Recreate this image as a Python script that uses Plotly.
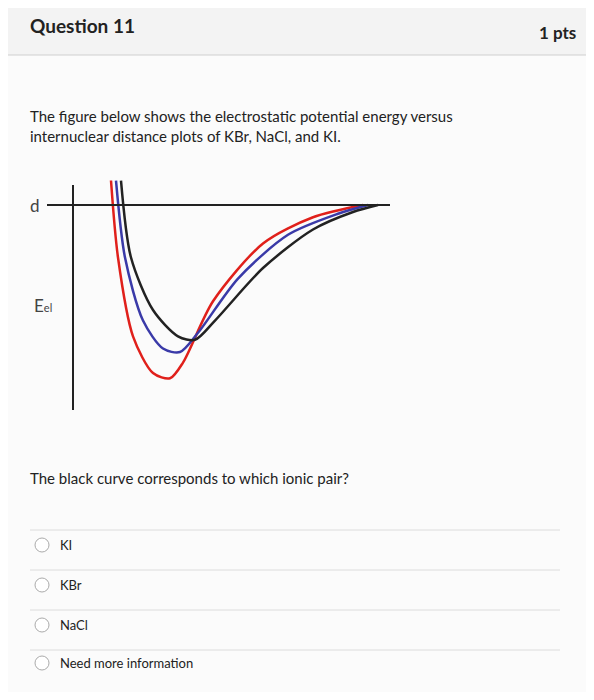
import plotly.graph_objects as go

W, H = 594, 700
M = 8  # default page margin
# curve data: r (arbitrary units), E (arbitrary units)
red_r = [0.38, 0.45, 0.6, 0.8, 0.97, 1.1, 1.4, 1.9, 2.4, 2.9]
red_E = [0.14, -0.3, -0.75, -0.96, -0.99, -0.9, -0.55, -0.22, -0.07, 0.0]
blue_r = [0.43, 0.52, 0.7, 0.9, 1.07, 1.25, 1.65, 2.15, 2.65, 2.95]
blue_E = [0.14, -0.3, -0.66, -0.82, -0.84, -0.73, -0.42, -0.17, -0.05, 0.0]
black_r = [0.48, 0.58, 0.8, 1.05, 1.22, 1.42, 1.9, 2.4, 2.8, 3.05]
black_E = [0.14, -0.3, -0.6, -0.75, -0.77, -0.66, -0.36, -0.14, -0.04, 0.0]
options = ["KI", "KBr", "NaCl", "Need more information"]
option_y = [545, 585, 625, 663]

fig = go.Figure()
for r, e, c in [(red_r, red_E, "#e0201b"), (blue_r, blue_E, "#3a3aa8"), (black_r, black_E, "#222222")]:
    fig.add_trace(go.Scatter(x=r, y=e, mode="lines", line=dict(color=c, width=2.5, shape="spline", smoothing=0.8),
                             xaxis="x2", yaxis="y2", hoverinfo="skip"))

F = "Lato, sans-serif"
shapes = [
    dict(type="rect", xref="x", yref="y", x0=0, x1=W, y0=0, y1=55, fillcolor="#f3f3f3", line=dict(width=0), layer="below"),
    dict(type="line", xref="x", yref="y", x0=0, x1=W, y0=55, y1=55, line=dict(color="#cfcfcf", width=1)),
    dict(type="line", xref="x", yref="y", x0=73, x1=73, y0=185, y1=410, line=dict(color="#222", width=2)),
    dict(type="line", xref="x", yref="y", x0=47, x1=390, y0=205, y1=205, line=dict(color="#222", width=2)),
]
for yy in [530, 570, 610, 650]:
    shapes.append(dict(type="line", xref="x", yref="y", x0=30, x1=560, y0=yy, y1=yy, line=dict(color="#dcdcdc", width=1)))
for yy in option_y:
    shapes.append(dict(type="circle", xref="x", yref="y", x0=35, x1=49, y0=yy - 7, y1=yy + 7,
                       line=dict(color="#aaaaaa", width=1), fillcolor="white"))

ann = [
    dict(x=28, y=25, text="<b>Question 11</b>", font=dict(size=19)),
    dict(x=578, y=32, text="<b>1 pts</b>", font=dict(size=17), xanchor="right"),
    dict(x=28, y=126, text="The figure below shows the electrostatic potential energy versus<br>internuclear distance plots of KBr, NaCl, and KI.", font=dict(size=15), align="left"),
    dict(x=28, y=205, text="d", font=dict(size=17, color="#444")),
    dict(x=32, y=305, text="E<span style='font-size:11px'>el</span>", font=dict(size=17, color="#444")),
    dict(x=28, y=478, text="The black curve corresponds to which ionic pair?", font=dict(size=15)),
]
for t, yy in zip(options, option_y):
    ann.append(dict(x=58, y=yy, text=t, font=dict(size=13)))
for a in ann:
    a.update(xref="x", yref="y", showarrow=False, xanchor=a.get("xanchor", "left"), yanchor="middle")
    a["font"].setdefault("color", "#222")
    a["font"]["family"] = F

FW, FH = W - 2 * M, H - 2 * M
fx = lambda p: (p - M) / FW
fy = lambda p: 1 - (p - M) / FH
fig.update_layout(
    width=FW, height=FH, margin=dict(l=0, r=0, t=0, b=0), showlegend=False,
    paper_bgcolor="#fbfbfb", plot_bgcolor="rgba(0,0,0,0)",
    xaxis=dict(range=[M, W - M], visible=False, domain=[0, 1]),
    yaxis=dict(range=[H - M, M], visible=False, domain=[0, 1]),
    xaxis2=dict(range=[0, 3.17], visible=False, domain=[fx(73), fx(390)], anchor="y2"),
    yaxis2=dict(range=[-1.171, 0.143], visible=False, domain=[fy(410), fy(180)], anchor="x2"),
    shapes=shapes, annotations=ann,
)
fig.write_html("out.html")
